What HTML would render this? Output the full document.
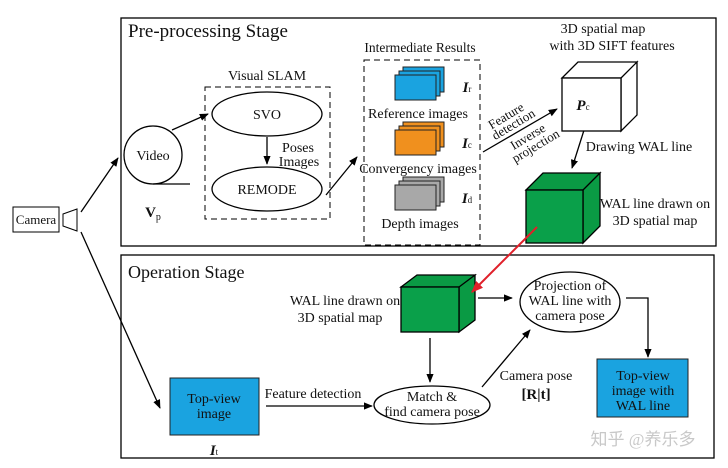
<!DOCTYPE html>
<html><head><meta charset="utf-8"><style>
body{margin:0;background:#fff}
svg{display:block}
text{font-family:"Liberation Serif",serif;fill:#111}
</style></head><body>
<svg width="728" height="468" viewBox="0 0 728 468" xmlns="http://www.w3.org/2000/svg">
<defs>
<marker id="a" viewBox="0 0 10 10" refX="9" refY="5" markerWidth="7" markerHeight="7" orient="auto"><path d="M0,1 L10,5 L0,9 z" fill="#000"/></marker>
<marker id="r" viewBox="0 0 10 10" refX="9" refY="5" markerWidth="6" markerHeight="6" orient="auto"><path d="M0,1 L10,5 L0,9 z" fill="#e0202a"/></marker>
</defs>
<g stroke="#000" fill="none" stroke-width="1.3">
<rect x="121" y="18" width="595" height="228"/>
<rect x="121" y="255" width="593" height="203"/>
<rect x="13" y="207" width="46" height="25" stroke-width="1"/>
<path d="M63,214 L77,209 L77,231 L63,226 Z" stroke-width="1"/>
<line x1="81" y1="212" x2="118" y2="158" marker-end="url(#a)"/>
<line x1="81" y1="232" x2="160" y2="408" marker-end="url(#a)"/>
<circle cx="153" cy="155" r="29"/>
<line x1="153" y1="184" x2="190" y2="184"/>
<rect x="205" y="87" width="125" height="132" stroke-dasharray="6,4" stroke-width="1"/>
<ellipse cx="267" cy="114" rx="55" ry="22"/>
<ellipse cx="267" cy="189" rx="55" ry="22"/>
<line x1="267" y1="137" x2="267" y2="164" marker-end="url(#a)"/>
<line x1="172" y1="130" x2="208" y2="114" marker-end="url(#a)"/>
<line x1="326" y1="195" x2="357" y2="157" marker-end="url(#a)"/>
<rect x="364" y="60" width="116" height="185" stroke-dasharray="6,4" stroke-width="1"/>
<line x1="483" y1="152" x2="557" y2="109" marker-end="url(#a)"/>
<line x1="585" y1="127" x2="572" y2="168" marker-end="url(#a)"/>
<line x1="478" y1="298" x2="512" y2="298" marker-end="url(#a)"/>
<polyline points="626,298 648,298 648,357" marker-end="url(#a)"/>
<line x1="430" y1="338" x2="430" y2="382" marker-end="url(#a)"/>
<ellipse cx="570" cy="302" rx="50" ry="30"/>
<ellipse cx="432" cy="405" rx="58" ry="19"/>
<line x1="266" y1="406" x2="372" y2="406" marker-end="url(#a)"/>
<line x1="482" y1="387" x2="530" y2="330" marker-end="url(#a)"/>
</g>
<g stroke="#222" stroke-width="1">
<rect x="403" y="67" width="41" height="25" fill="#1aa3e0"/><rect x="399" y="71" width="41" height="25" fill="#1aa3e0"/><rect x="395" y="75" width="41" height="25" fill="#1aa3e0"/>
<rect x="403" y="122" width="41" height="25" fill="#f0901e"/><rect x="399" y="126" width="41" height="25" fill="#f0901e"/><rect x="395" y="130" width="41" height="25" fill="#f0901e"/>
<rect x="403" y="177" width="41" height="25" fill="#a8a8a8"/><rect x="399" y="181" width="41" height="25" fill="#a8a8a8"/><rect x="395" y="185" width="41" height="25" fill="#a8a8a8"/>
<path d="M562,78 L578,62 L637,62 L621,78 Z M621,78 L637,62 L637,115 L621,131 Z" fill="#fff" stroke="#000" stroke-width="1.3"/>
<rect x="562" y="78" width="59" height="53" fill="#fff" stroke="#000" stroke-width="1.3"/>
<path d="M526,190 L543,173 L600,173 L583,190 Z M583,190 L600,173 L600,226 L583,243 Z" fill="#0a9a44" stroke="#000" stroke-width="1.3"/>
<rect x="526" y="190" width="57" height="53" fill="#0aa04a" stroke="#000" stroke-width="1.3"/>
<path d="M401,287 L417,275 L475,275 L459,287 Z M459,287 L475,275 L475,320 L459,332 Z" fill="#0a9a44" stroke="#000" stroke-width="1.3"/>
<rect x="401" y="287" width="58" height="45" fill="#0aa04a" stroke="#000" stroke-width="1.3"/>
<rect x="170" y="378" width="89" height="57" fill="#1aa3e0"/>
<rect x="597" y="359" width="91" height="58" fill="#1aa3e0"/>
</g>
<line x1="537" y1="227" x2="472" y2="292" stroke="#e0202a" stroke-width="2" marker-end="url(#r)"/>
<g font-size="14" text-anchor="middle">
<text x="128" y="37" font-size="19" text-anchor="start">Pre-processing Stage</text>
<text x="128" y="278" font-size="18" text-anchor="start">Operation Stage</text>
<text x="36" y="224" font-size="13">Camera</text>
<text x="153" y="160">Video</text>
<text x="153" y="217" font-weight="bold" font-size="15">V<tspan font-size="10" font-weight="normal" dy="3">p</tspan></text>
<text x="267" y="80">Visual SLAM</text>
<text x="267" y="119">SVO</text>
<text x="267" y="194">REMODE</text>
<text x="298" y="152">Poses</text>
<text x="299" y="166">Images</text>
<text x="420" y="52" font-size="13.5">Intermediate Results</text>
<text x="467" y="92" font-weight="bold" font-style="italic" font-size="15">I<tspan font-size="9" font-style="normal" font-weight="normal">r</tspan></text>
<text x="467" y="148" font-weight="bold" font-style="italic" font-size="15">I<tspan font-size="9" font-style="normal" font-weight="normal">c</tspan></text>
<text x="467" y="203" font-weight="bold" font-style="italic" font-size="15">I<tspan font-size="9" font-style="normal" font-weight="normal">d</tspan></text>
<text x="418" y="118">Reference images</text>
<text x="418" y="173">Convergency images</text>
<text x="420" y="228">Depth images</text>
<g transform="rotate(-31 518 130)"><text x="515" y="116" font-size="13">Feature</text><text x="517" y="127" font-size="13">detection</text><text x="523" y="145" font-size="13">Inverse</text><text x="525" y="157" font-size="13">projection</text></g>
<text x="603" y="33">3D spatial map</text>
<text x="612" y="50">with 3D SIFT features</text>
<text x="583" y="110" font-weight="bold" font-style="italic" font-size="15">P<tspan font-size="9" font-style="normal" font-weight="normal">c</tspan></text>
<text x="639" y="151">Drawing WAL line</text>
<text x="655" y="208">WAL line drawn on</text>
<text x="655" y="225">3D spatial map</text>
<text x="345" y="305">WAL line drawn on</text>
<text x="340" y="322">3D spatial map</text>
<text x="570" y="290">Projection of</text>
<text x="570" y="305">WAL line with</text>
<text x="570" y="320">camera pose</text>
<text x="432" y="401">Match &amp;</text>
<text x="432" y="416">find camera pose</text>
<text x="313" y="398">Feature detection</text>
<text x="536" y="380">Camera pose</text>
<text x="536" y="399" font-size="15" font-weight="bold" font-family="Liberation Sans,sans-serif">[R|t]</text>
<text x="214" y="403" fill="#123">Top-view</text>
<text x="214" y="418" fill="#123">image</text>
<text x="214" y="455" font-weight="bold" font-style="italic" font-size="15">I<tspan font-size="9" font-style="normal" font-weight="normal">t</tspan></text>
<text x="643" y="380" fill="#123">Top-view</text>
<text x="643" y="395" fill="#123">image with</text>
<text x="643" y="410" fill="#123">WAL line</text>
<text x="643" y="445" font-size="17" style="fill:#c8c8c8" font-family="Liberation Sans,Noto Sans CJK SC,sans-serif">知乎 @养乐多</text>
</g>
</svg>
</body></html>
